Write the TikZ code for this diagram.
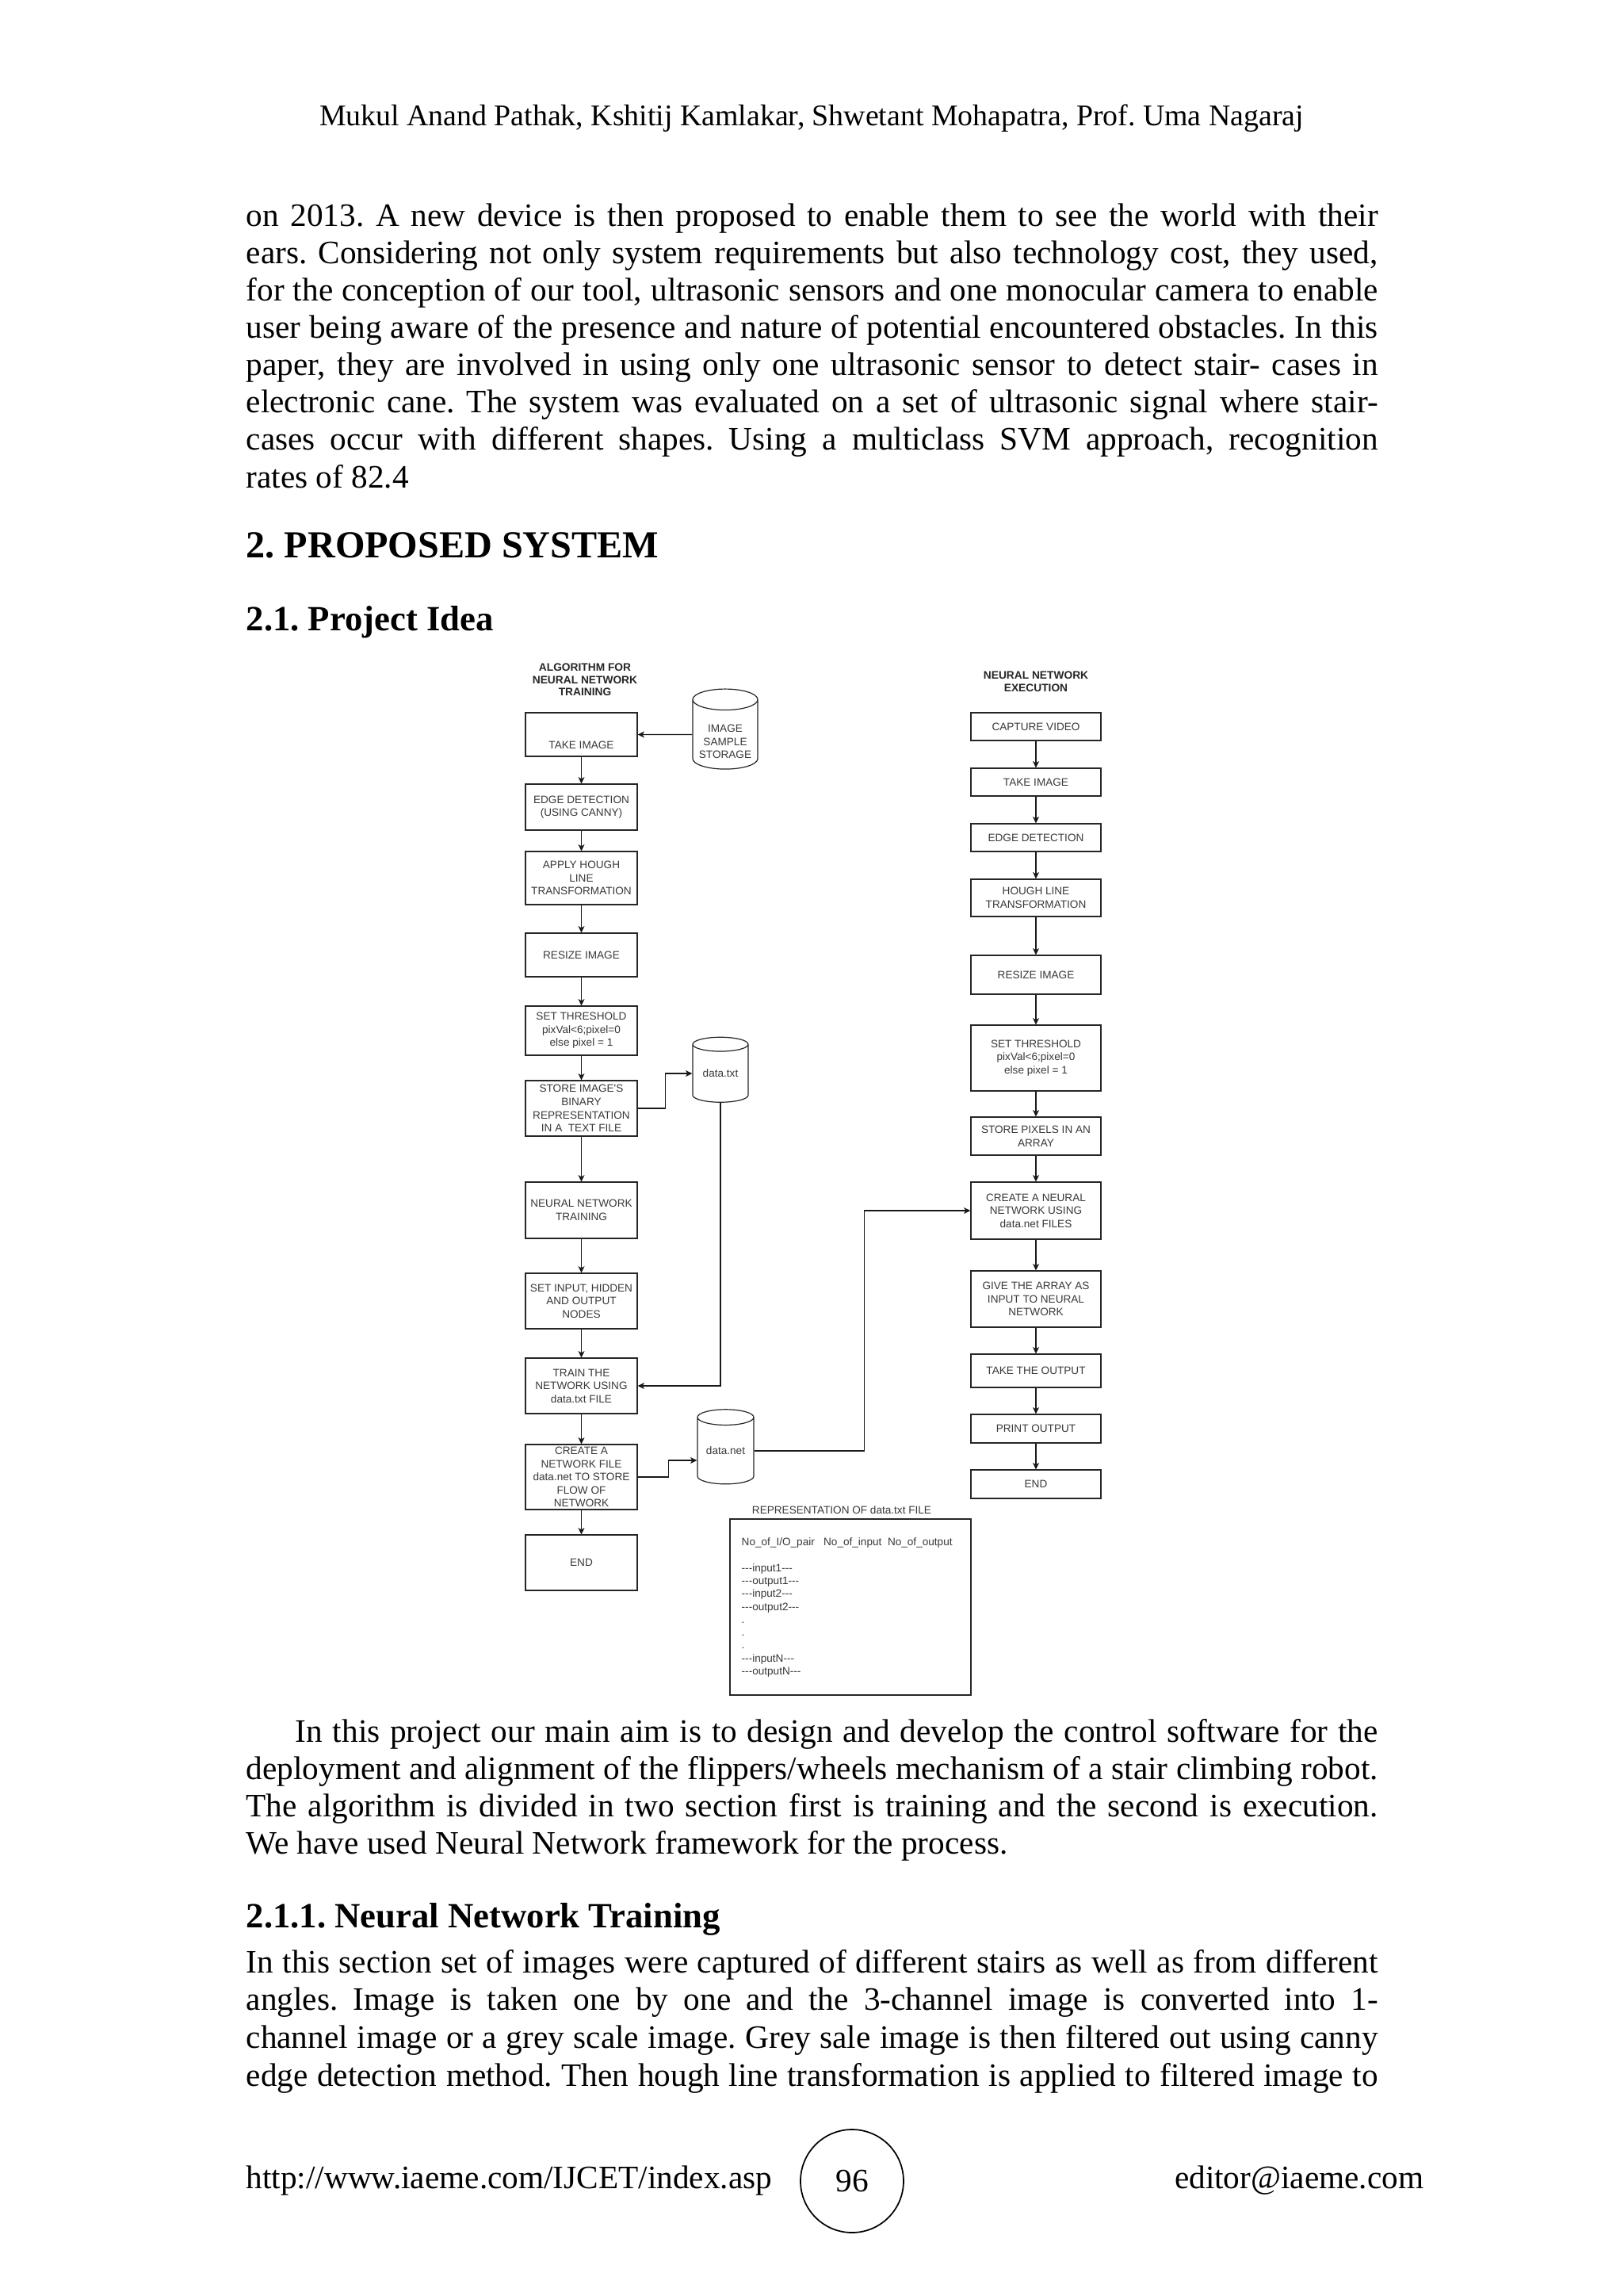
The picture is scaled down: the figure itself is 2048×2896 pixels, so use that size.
\documentclass[tikz,border=0pt]{standalone}
\usepackage{fontspec}
\setmainfont{Liberation Serif}
\newfontfamily\chartfont{Liberation Sans}
\usetikzlibrary{arrows.meta,shapes.geometric}

\newlength\pxu \setlength\pxu{0.29066pt}
\newlength\textw \setlength\textw{1428\pxu}
\newcommand\flowfont{\chartfont\fontsize{3.95pt}{4.8pt}\selectfont}
\newcommand\bodyfont{\fontsize{12pt}{13.8pt}\selectfont}
\frenchspacing

\begin{document}
\begin{tikzpicture}[
    x=0.29066pt, y=-0.29066pt,
    box/.style={
        draw=black!85,
        line width=0.35pt,
        minimum width=141*\pxu,
        inner xsep=1pt, inner ysep=0pt,
        align=center,
        text=black!78,
        font=\flowfont
    },
    rbox/.style={box, minimum width=164*\pxu},
    boxh/.style={minimum height=#1*\pxu},
    db/.style={
        cylinder, shape border rotate=90, aspect=0.4,
        draw=black!85, line width=0.35pt,
        inner sep=0pt, align=center,
        text=black!78, font=\flowfont
    },
    arr/.style={draw=black!90, line width=0.38pt,
        -{Stealth[length=2.4pt,width=2.3pt,inset=0.6pt]}},
    ttl/.style={align=center, inner sep=0pt, text=black!85,
        font=\chartfont\bfseries\fontsize{4pt}{4.56pt}\selectfont},
    repline/.style={anchor=base west, inner sep=0pt, text=black!78, font=\flowfont},
    jline/.style={anchor=base west, inner sep=0pt, font=\bodyfont},
    head/.style={anchor=base west, inner sep=0pt, font=\bfseries\fontsize{#1}{#1}\selectfont}
]
\path[use as bounding box, fill=white] (0,0) rectangle (2048,2896);

% Running header
\node[anchor=base, inner sep=0pt, font=\fontsize{11pt}{13pt}\selectfont] (header) at (1024,158)
    {Mukul Anand Pathak, Kshitij Kamlakar, Shwetant Mohapatra, Prof. Uma Nagaraj};

% First paragraph
\foreach \t [count=\i] in {
    {on 2013. A new device is then proposed to enable them to see the world with their},
    {ears. Considering not only system requirements but also technology cost, they used,},
    {for the conception of our tool, ultrasonic sensors and one monocular camera to enable},
    {user being aware of the presence and nature of potential encountered obstacles. In this},
    {paper, they are involved in using only one ultrasonic sensor to detect stair- cases in},
    {electronic cane. The system was evaluated on a set of ultrasonic signal where stair-},
    {cases occur with different shapes. Using a multiclass SVM approach, recognition}}
    \node[jline] (pa\i) at (310,{285+47.1*(\i-1)}) {\makebox[\textw][s]{\t}};
\node[jline] (pa8) at (310,615) {rates of 82.4};

% Headings
\node[head=14pt] (sec) at (310,703) {2. PROPOSED SYSTEM};
\node[head=13pt] (subsec) at (310,795) {2.1. Project Idea};

% Training column
\node[ttl] (trainTitle) at (738,857.5) {ALGORITHM FOR\\NEURAL NETWORK\\TRAINING};
\node[box, boxh=55] (tImg) at (733.5,926.5) {\raisebox{-18\pxu}[0pt][0pt]{TAKE IMAGE}};
\node[box, boxh=58] (edge) at (733.5,1018) {EDGE DETECTION\\(USING CANNY)};
\node[box, boxh=67] (hough) at (733.5,1107.5) {APPLY HOUGH\\LINE\\TRANSFORMATION};
\node[box, boxh=55] (resize) at (733.5,1204.5) {RESIZE IMAGE};
\node[box, boxh=62] (thresh) at (733.5,1300) {SET THRESHOLD\\pixVal<6;pixel=0\\else pixel = 1};
\node[box, boxh=70] (store) at (733.5,1398) {STORE IMAGE'S\\BINARY\\REPRESENTATION\\IN A\ \ TEXT FILE};
\node[box, boxh=71] (nnTrain) at (733.5,1526.5) {NEURAL NETWORK\\TRAINING};
\node[box, boxh=70] (setIO) at (733.5,1641) {SET INPUT, HIDDEN\\AND OUTPUT\\NODES};
\node[box, boxh=70] (train) at (733.5,1748) {TRAIN THE\\NETWORK USING\\data.txt FILE};
\node[box, boxh=82] (netFile) at (733.5,1863) {CREATE A\\NETWORK FILE\\data.net TO STORE\\FLOW OF\\NETWORK};
\node[box, boxh=70] (endL) at (733.5,1971) {END};

% Stores
\node[db, minimum width=82*\pxu, minimum height=99*\pxu] (imgStore) at (915,926.5) {\rule{0pt}{8pt}IMAGE\\SAMPLE\\STORAGE};
\node[db, minimum width=70*\pxu, minimum height=82*\pxu] (dtxt) at (909,1354) {data.txt};
\node[db, minimum width=71*\pxu, minimum height=94*\pxu] (dnet) at (915.5,1830) {data.net};

% Execution column
\node[ttl] (execTitle) at (1307,860) {NEURAL NETWORK\\EXECUTION};
\node[rbox, boxh=35] (capt) at (1307,916.5) {CAPTURE VIDEO};
\node[rbox, boxh=35] (tImg2) at (1307,986.5) {TAKE IMAGE};
\node[rbox, boxh=35] (edge2) at (1307,1056.5) {EDGE DETECTION};
\node[rbox, boxh=47] (hough2) at (1307,1132.5) {HOUGH LINE\\TRANSFORMATION};
\node[rbox, boxh=49] (resize2) at (1307,1229.5) {RESIZE IMAGE};
\node[rbox, boxh=83] (thresh2) at (1307,1334.5) {SET THRESHOLD\\pixVal<6;pixel=0\\else pixel = 1};
\node[rbox, boxh=48] (pixArr) at (1307,1433) {STORE PIXELS IN AN\\ARRAY};
\node[rbox, boxh=72] (createNN) at (1307,1527) {CREATE A NEURAL\\NETWORK USING\\data.net FILES};
\node[rbox, boxh=71] (give) at (1307,1638.5) {GIVE THE ARRAY AS\\INPUT TO NEURAL\\NETWORK};
\node[rbox, boxh=42] (takeOut) at (1307,1729) {TAKE THE OUTPUT};
\node[rbox, boxh=36] (print) at (1307,1802) {PRINT OUTPUT};
\node[rbox, boxh=36] (endR) at (1307,1872) {END};

% Flow
\foreach \a/\b in {tImg/edge, edge/hough, hough/resize, resize/thresh, thresh/store,
    store/nnTrain, nnTrain/setIO, setIO/train, train/netFile, netFile/endL,
    capt/tImg2, tImg2/edge2, edge2/hough2, hough2/resize2, resize2/thresh2, thresh2/pixArr,
    pixArr/createNN, createNN/give, give/takeOut, takeOut/print, print/endR}
    \draw[arr] (\a) -- (\b);

\draw[arr] (imgStore.west) -- (tImg.east);
\draw[arr] (store.east) -- ++(35,0) |- (dtxt.west);
\draw[arr] (dtxt.south) |- (train.east);
\draw[arr] (netFile.east) -- ++(39,0) |- ([yshift=-12*\pxu]dnet.west);
\draw[arr] (dnet.east) -- ++(139,0) |- (createNN.west);

% data.txt layout
\node[draw=black!85, line width=0.35pt, minimum width=304*\pxu, minimum height=222*\pxu, inner sep=0pt] (rep) at (1073,2027) {};
\node[inner sep=0pt, text=black!78, font=\flowfont] (repTitle) at (1062,1905) {REPRESENTATION OF data.txt FILE};
\foreach \k/\t in {0/{No\_of\_I/O\_pair\ \ \ No\_of\_input\ \ No\_of\_output},
    2/{-{}-{}-input1-{}-{}-}, 3/{-{}-{}-output1-{}-{}-}, 4/{-{}-{}-input2-{}-{}-},
    5/{-{}-{}-output2-{}-{}-}, 6/{.}, 7/{.}, 8/{.},
    9/{-{}-{}-inputN-{}-{}-}, 10/{-{}-{}-outputN-{}-{}-}}
    \node[repline] (rep\k) at (935,{1949.5+16.3*\k}) {\t};

% Second paragraph
\node[jline] (pb1) at (372,2197) {\makebox[\dimexpr\textw-62\pxu\relax][s]{In this project our main aim is to design and develop the control software for the}};
\foreach \t [count=\i from 2] in {
    {deployment and alignment of the flippers/wheels mechanism of a stair climbing robot.},
    {The algorithm is divided in two section first is training and the second is execution.}}
    \node[jline] (pb\i) at (310,{2197+47.1*(\i-1)}) {\makebox[\textw][s]{\t}};
\node[jline] (pb4) at (310,2338) {We have used Neural Network framework for the process.};

\node[head=13pt] (subsubsec) at (310,2431) {2.1.1. Neural Network Training};

% Third paragraph
\foreach \t [count=\i] in {
    {In this section set of images were captured of different stairs as well as from different},
    {angles. Image is taken one by one and the 3-channel image is converted into 1-},
    {channel image or a grey scale image. Grey sale image is then filtered out using canny},
    {edge detection method. Then hough line transformation is applied to filtered image to}}
    \node[jline] (pc\i) at (310,{2488+47.7*(\i-1)}) {\makebox[\textw][s]{\t}};

% Footer
\node[anchor=base west, inner sep=0pt, font=\bodyfont] (url) at (310,2760) {http://www.iaeme.com/IJCET/index.asp};
\node[circle, draw, line width=0.5pt, minimum size=130*\pxu, inner sep=0pt, font=\bodyfont] (pgno) at (1075,2751) {96};
\node[anchor=base east, inner sep=0pt, font=\bodyfont] (mail) at (1797,2760) {editor@iaeme.com};

\end{tikzpicture}
\end{document}
